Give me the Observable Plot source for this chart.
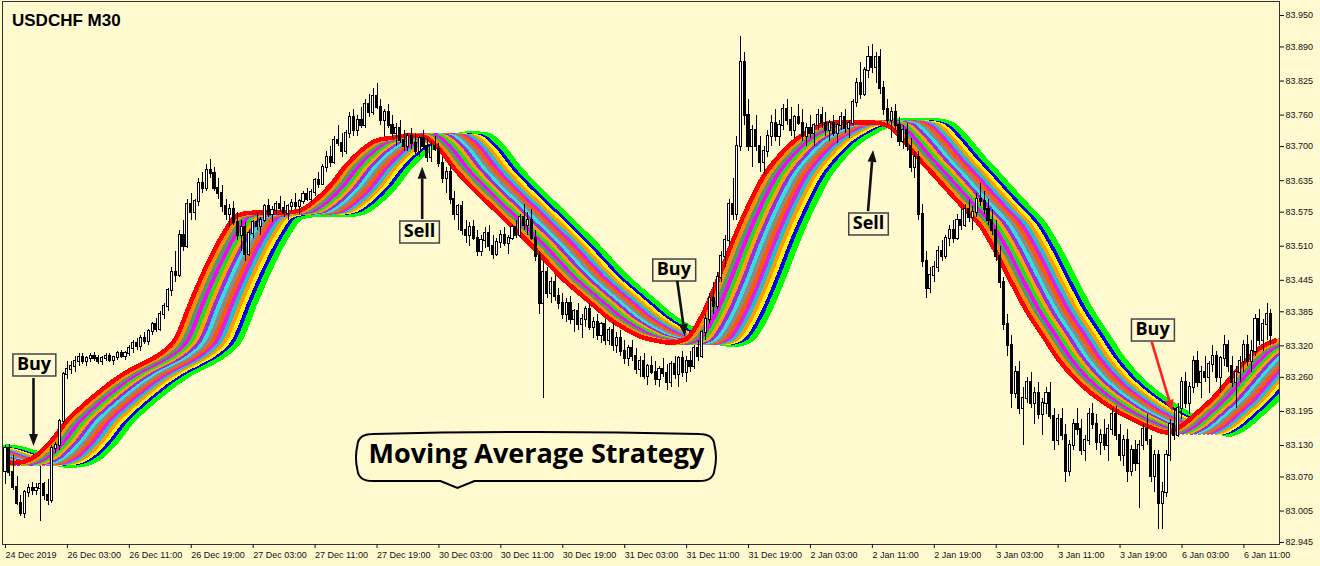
<!DOCTYPE html>
<html>
<head>
<meta charset="utf-8">
<script src="https://cdn.jsdelivr.net/npm/d3@7"></script>
<script src="https://cdn.jsdelivr.net/npm/@observablehq/plot@0.6"></script>
<style>
  html, body { margin: 0; padding: 0; background: #fff9d0; overflow: hidden; }
  #chart { width: 1320px; height: 566px; }
  #chart svg { display: block; }
</style>
</head>
<body>
<div id="chart"></div>
<script>
const symbolTitle = "USDCHF M30";
const calloutText = "Moving Average Strategy";
const BASE = 83.0; // prices below are thousandths above 83.000

const opens = [
80,125,78,50,20,0,40,48,45,48,55,35,25,125,130,175,
265,275,280,290,298,290,295,300,295,290,296,300,292,297,305,300,
306,315,325,318,335,328,348,360,352,380,395,425,460,455,530,510,
590,575,595,630,620,655,648,620,610,585,570,580,555,530,545,495,
535,555,548,560,585,570,578,590,582,572,585,592,585,595,608,600,
612,635,628,660,680,670,712,705,690,725,755,730,750,740,780,765,
795,775,750,765,740,725,735,712,700,720,705,690,715,700,680,700,
695,668,640,650,600,570,585,540,530,545,525,500,520,535,510,495,
518,530,515,525,545,530,565,550,560,525,490,400,460,420,440,415,
400,380,400,370,385,360,370,390,355,365,340,360,330,350,320,335,
310,295,315,300,275,290,262,280,270,255,275,268,250,285,265,295,
270,290,280,315,300,345,370,410,395,450,490,520,590,570,700,860,
760,700,730,700,670,690,720,745,720,740,770,750,730,755,745,720,
735,725,740,760,745,730,745,725,740,755,735,745,785,820,800,845,
870,850,870,810,770,750,765,740,710,730,700,660,680,570,480,430,
455,470,500,490,525,540,525,560,550,580,565,575,600,595,580,560,
540,490,440,360,320,230,270,200,220,250,210,230,190,210,230,185,
140,180,150,80,130,170,160,120,140,190,170,135,150,130,160,190,
150,110,140,80,120,95,130,160,140,70,110,20,40,110,170,150,
200,250,210,240,290,250,270,260,285,300,260,295,320,280,250,270,
290,320,290,310,370,330,360,380];

const highs = [
130,132,110,70,35,45,55,60,58,90,60,65,130,135,180,270,
290,290,300,305,305,300,305,308,302,300,305,306,300,310,312,310,
320,330,335,340,345,352,365,372,385,400,430,470,500,540,560,600,
610,600,640,650,665,675,660,640,625,600,590,595,575,560,555,540,
560,575,565,590,600,585,595,605,595,590,600,610,600,615,620,618,
640,650,665,690,700,720,740,725,730,765,770,760,775,790,800,810,
820,790,770,780,760,745,750,730,725,735,725,720,730,715,710,720,
705,680,660,665,615,590,595,560,555,560,540,530,545,550,530,525,
540,545,530,550,560,570,590,575,580,540,500,480,470,450,455,430,
420,410,415,390,400,380,395,400,375,380,365,370,355,365,345,350,
330,320,330,315,300,305,285,300,290,280,295,285,290,300,300,310,
300,310,320,330,350,380,420,440,460,500,530,600,640,720,910,880,
790,740,760,720,700,730,760,770,750,780,790,775,760,780,770,745,
760,745,770,775,765,750,760,745,765,770,750,790,830,860,850,890,
895,880,885,825,790,775,780,755,740,745,715,690,690,590,500,470,
480,510,520,530,550,560,570,580,590,600,585,610,630,615,600,580,
560,510,450,380,340,280,290,240,260,270,240,250,220,240,250,200,
190,200,170,140,180,200,180,150,200,210,190,160,180,170,200,205,
170,150,160,130,140,140,170,190,150,120,120,60,120,180,200,210,
260,270,250,300,310,280,300,290,320,310,300,340,330,300,280,300,
330,340,330,380,390,370,400,390];

const lows = [
55,70,45,15,-5,-10,30,35,35,-15,25,15,20,115,120,170,
255,265,270,280,285,280,288,290,285,282,290,288,283,292,295,292,
300,305,312,310,322,320,340,345,348,370,385,415,440,450,500,505,
560,560,585,610,615,640,615,600,575,560,545,550,520,500,480,490,
525,540,530,555,565,555,570,575,565,560,575,580,570,590,595,592,
605,620,625,650,660,665,700,680,685,715,720,720,735,735,755,760,
770,740,720,735,715,700,705,690,690,695,685,680,695,670,670,690,
660,630,610,590,560,540,530,515,510,520,490,490,505,500,485,490,
505,510,495,520,525,525,540,530,520,480,380,220,410,400,405,390,
370,365,360,345,350,335,355,350,335,330,325,320,320,310,305,300,
285,280,290,265,260,255,245,265,245,240,260,235,240,255,240,260,
250,270,275,290,295,330,360,380,390,440,470,510,560,560,690,740,
690,660,690,650,645,680,700,710,700,730,740,720,715,740,710,700,
715,700,730,735,720,710,720,705,730,725,715,740,775,790,795,830,
840,820,800,760,740,715,730,700,695,690,650,640,560,470,410,420,
440,460,480,485,510,515,520,540,545,555,540,565,585,570,550,530,
480,430,350,300,200,220,190,130,210,200,170,180,150,190,180,120,
130,140,60,70,120,150,110,100,130,160,120,110,120,100,150,140,
100,90,60,70,80,10,120,130,60,40,-30,-30,30,100,140,145,
180,200,190,230,240,220,250,230,270,250,230,280,270,240,200,250,
270,280,270,300,320,310,330,320];

const closes = [
125,78,50,20,0,40,48,45,48,55,35,25,125,130,175,265,
275,280,290,298,290,295,300,295,290,296,300,292,297,305,300,306,
315,325,318,335,328,348,360,352,380,395,425,460,455,530,510,590,
575,595,630,620,655,648,620,610,585,570,580,555,530,545,495,535,
555,548,560,585,570,578,590,582,572,585,592,585,595,608,600,612,
635,628,660,680,670,712,705,690,725,755,730,750,740,780,765,795,
775,750,765,740,725,735,712,700,720,705,690,715,700,680,700,695,
668,640,650,600,570,585,540,530,545,525,500,520,535,510,495,518,
530,515,525,545,530,565,550,560,525,490,400,460,420,440,415,400,
380,400,370,385,360,370,390,355,365,340,360,330,350,320,335,310,
295,315,300,275,290,262,280,270,255,275,268,250,285,265,295,270,
290,280,315,300,345,370,410,395,450,490,520,590,570,700,860,760,
700,730,700,670,690,720,745,720,740,770,750,730,755,745,720,735,
725,740,760,745,730,745,725,740,755,735,745,785,820,800,845,870,
850,870,810,770,750,765,740,710,730,700,660,680,570,480,430,455,
470,500,490,525,540,525,560,550,580,565,575,600,595,580,560,540,
490,440,360,320,230,270,200,220,250,210,230,190,210,230,185,140,
180,150,80,130,170,160,120,140,190,170,135,150,130,160,190,150,
110,140,80,120,95,130,160,140,70,110,20,40,110,170,150,200,
250,210,240,290,250,270,260,285,300,260,295,320,280,250,270,290,
320,290,310,370,330,360,380,340];

// fastest moving average (thousandths above 83.000), one value every 4 bars from bar -16
const ribbonFast = [
124,120,111,101,96,98,111,140,178,206,
231,254,273,288,305,334,406,473,530,569,
574,574,574,578,597,626,664,693,712,717,
721,719,696,658,626,597,569,540,511,479,
448,422,397,372,353,338,330,326,334,378,
445,521,588,645,683,712,731,744,746,746,
746,740,712,677,645,612,580,548,498,440,
385,340,295,260,233,211,192,177,164,155,
168,193,220,254,288,315,330];
const ribbonFirstBar = -16, ribbonEvery = 4;
const ribbonLagStep = 1.08; // bars of lag between successive averages

const xTickLabels = ["24 Dec 2019","26 Dec 03:00","26 Dec 11:00","26 Dec 19:00","27 Dec 03:00",
  "27 Dec 11:00","27 Dec 19:00","30 Dec 03:00","30 Dec 11:00","30 Dec 19:00","31 Dec 03:00",
  "31 Dec 11:00","31 Dec 19:00","2 Jan 03:00","2 Jan 11:00","2 Jan 19:00","3 Jan 03:00",
  "3 Jan 11:00","3 Jan 19:00","6 Jan 03:00","6 Jan 11:00"];
const barsPerXTick = 16;
const yTickLabels = ["83.950","83.890","83.825","83.760","83.700","83.635","83.575","83.510",
  "83.445","83.385","83.320","83.260","83.195","83.130","83.070","83.005","82.945"];

const signalText  = ["Buy", "Sell", "Buy", "Sell", "Buy"];
const signalBar   = [7.36, 107.0, 172.7, 223.0, 296.4];
const signalPrice = [83.2845, 83.5381, 83.4656, 83.5534, 83.3512];
const arrowFromBar   = [7.36, 107.8, 173.7, 223.0, 296.3];
const arrowFromPrice = [83.2578, 83.5610, 83.4433, 83.5762, 83.3270];
const arrowToBar     = [7.36, 107.8, 175.7, 224.3, 301.7];
const arrowToPrice   = [83.1281, 83.6607, 83.3379, 83.6926, 83.1935];
const arrowColor     = ["#111", "#111", "#111", "#111", "#ff2020"];
const calloutBar = 137.2, calloutPrice = 83.1138;

// styles
const BG = "#fff9d0";
const ribbonColors = ["#ff0000","#ff8c00","#4f9a66","#ff00ff","#22dd22","#ffa000","#9a2fe0","#30e0e0",
  "#8a8a8a","#ff5a00","#e020e0","#20c0d0","#ff9900","#ffee00","#0000ff","#00ff00"];

const W = 1320, H = 566, mL = 2, mR = 41, mT = 1, mB = 22;
const xDomain = [-0.775, 329.2];
const yDomain = [82.94123, 83.9767];

const bars = closes.map((c, i) => ({
  bar: i, o: BASE + opens[i] / 1000, h: BASE + highs[i] / 1000,
  l: BASE + lows[i] / 1000, c: BASE + c / 1000
}));
const ribbon = ribbonFast.map((v, k) => ({bar: ribbonFirstBar + k * ribbonEvery, price: BASE + v / 1000}));

const ribbonMarks = [];
for (let j = ribbonColors.length - 1; j >= 0; j--) {
  const s = j * ribbonLagStep;
  ribbonMarks.push(Plot.line(ribbon, {
    x: d => d.bar + s, y: "price", stroke: ribbonColors[j],
    strokeWidth: j === ribbonColors.length - 1 ? 9 : 4.5,
    curve: "monotone-x", clip: true, shapeRendering: "crispEdges"
  }));
}

const xTickBars = xTickLabels.map((_, k) => k * barsPerXTick);
const yTickValues = yTickLabels.map(Number);
const signals = signalText.map((t, k) => ({t, bar: signalBar[k], price: signalPrice[k]}));

const chart = Plot.plot({
  width: W, height: H,
  marginLeft: mL, marginRight: mR, marginTop: mT, marginBottom: mB,
  style: {background: BG, fontFamily: "'Liberation Sans', Arial, sans-serif", fontSize: "9px", color: "#111"},
  x: {domain: xDomain, axis: null},
  y: {domain: yDomain, axis: null},
  marks: [
    ...ribbonMarks,
    Plot.ruleX(bars, {x: "bar", y1: "l", y2: "h", stroke: "#000", strokeWidth: 1, shapeRendering: "crispEdges", clip: true}),
    Plot.rect(bars, {
      x1: d => d.bar - 0.27, x2: d => d.bar + 0.27, y1: "o", y2: "c",
      fill: d => d.c > d.o ? "#ffffff" : "#000000", stroke: "#000", strokeWidth: 1,
      insetTop: -0.5, insetBottom: -0.5, shapeRendering: "crispEdges", clip: true
    }),
    Plot.frame({stroke: "#333", strokeWidth: 1}),
    Plot.axisY({anchor: "right", ticks: yTickValues, tickSize: 4, tickPadding: 2, label: null,
      tickFormat: d => yTickLabels[yTickValues.indexOf(d)], fill: "#111"}),
    Plot.axisX({ticks: xTickBars, tickSize: 4, tickPadding: 3, textAnchor: "start", label: null,
      tickFormat: d => xTickLabels[xTickBars.indexOf(d)], fill: "#111"}),
    Plot.text(signals, {x: "bar", y: "price", text: "t",
      fontFamily: "'Open Sans', sans-serif", fontWeight: 700, fontSize: 18, fill: "#000"}),
    Plot.text([calloutText], {x: () => calloutBar, y: () => calloutPrice, text: d => d,
      fontFamily: "'Open Sans', sans-serif", fontWeight: 700, fontSize: 27, fill: "#000"})
  ]
});

document.getElementById("chart").appendChild(chart);

const sx = chart.scale("x"), sy = chart.scale("y");
const X = v => sx.apply(v), Y = v => sy.apply(v);
const svg = d3.select(chart);

// boxes around signal labels (drawn in each label's own coordinate frame)
svg.selectAll("text").filter(function() {
  return signalText.includes(this.textContent) && this.parentNode.tagName === "g";
}).each(function() {
  const bb = this.getBBox();
  d3.select(this.parentNode).insert("rect", () => this)
    .attr("transform", this.getAttribute("transform"))
    .attr("x", bb.x - 4).attr("y", -10.5).attr("width", bb.width + 8).attr("height", 22)
    .attr("fill", BG).attr("stroke", "#444").attr("stroke-width", 1.5);
});

// arrows
const ag = svg.append("g").attr("class", "arrows");
arrowFromBar.forEach((_, k) => {
  const x1 = X(arrowFromBar[k]), y1 = Y(arrowFromPrice[k]);
  const x2 = X(arrowToBar[k]), y2 = Y(arrowToPrice[k]);
  const len = Math.hypot(x2 - x1, y2 - y1), ux = (x2 - x1) / len, uy = (y2 - y1) / len;
  const bx = x2 - 12 * ux, by = y2 - 12 * uy;
  ag.append("line").attr("x1", x1).attr("y1", y1).attr("x2", bx).attr("y2", by)
    .attr("stroke", arrowColor[k]).attr("stroke-width", 2.6);
  ag.append("path").attr("d", `M${x2},${y2}L${bx - 4.5 * uy},${by + 4.5 * ux}L${bx + 4.5 * uy},${by - 4.5 * ux}Z`)
    .attr("fill", arrowColor[k]);
});

// callout shape
{
  const cx = X(calloutBar), cy = Y(calloutPrice);
  const x0 = cx - 177.5, x1 = cx + 177.5, y0 = cy - 20.5, y1 = cy + 28.5, ym = (y0 + y1) / 2;
  const xp = cx - 78.5, yp = cy + 34.5;
  const d = `M${x0 + 14},${y0 + 1} Q${cx},${y0 - 3} ${x1 - 14},${y0 + 1}
    Q${x1},${y0 + 1} ${x1 + 1},${y0 + 12} Q${x1 + 4},${ym} ${x1 + 1},${y1 - 12}
    Q${x1},${y1 - 1} ${x1 - 14},${y1 - 1} L${xp + 17},${y1 - 1} L${xp},${yp} L${xp - 17},${y1 - 1}
    L${x0 + 14},${y1 - 1} Q${x0},${y1 - 1} ${x0 - 1},${y1 - 12} Q${x0 - 4},${ym} ${x0 - 1},${y0 + 12}
    Q${x0},${y0 + 1} ${x0 + 14},${y0 + 1}Z`;
  svg.append("path").attr("d", d).attr("fill", "none")
    .attr("stroke", "#000").attr("stroke-width", 2);
}

// title
svg.append("text").attr("x", 12).attr("y", 26).text(symbolTitle)
  .attr("text-anchor", "start")
  .attr("font-family", "'Liberation Sans', Arial, sans-serif").attr("font-weight", 700)
  .attr("font-size", 17).attr("fill", "#000");
</script>
</body>
</html>
